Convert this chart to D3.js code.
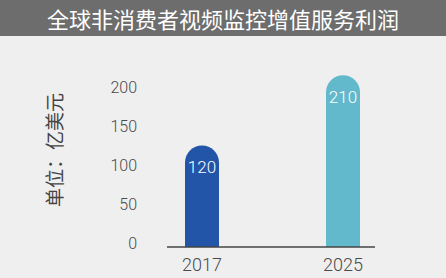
<!DOCTYPE html>
<html>
<head>
<meta charset="utf-8">
<script src="https://cdn.jsdelivr.net/npm/d3@7"></script>
<style>
  body { margin: 0; background: #efefef; }
  svg { display: block; }
</style>
</head>
<body>
<div class="chart"></div>
<script>
const width = 446
const height = 278

// data
const years = ['2017', '2025']
const profits = [120, 210]
const barColors = ['#2255a8', '#62b9cb']
const yTicks = [0, 50, 100, 150, 200]
const title = '全球非消费者视频监控增值服务利润'
const yTitle = '单位：亿美元'

const svg = d3.select('.chart').append('svg')
    .attr('width', width)
    .attr('height', height)
    .attr('viewBox', [0, 0, width, height])

svg.append('rect')
    .attr('width', width)
    .attr('height', height)
    .attr('fill', '#efefef')

// title bar
svg.append('rect')
    .attr('width', width)
    .attr('height', 36)
    .attr('fill', '#6d6d6d')

svg.append('text')
    .attr('x', width / 2)
    .attr('y', 18)
    .attr('text-anchor', 'middle')
    .attr('dominant-baseline', 'central')
    .attr('fill', '#fff')
    .style('font-family', '"Noto Sans CJK SC", sans-serif')
    .style('font-size', '22px')
    .text(title)

const x = d3.scalePoint()
    .domain(years)
    .range([202, 343])

const y = d3.scaleLinear()
    .domain([0, 200])
    .range([243, 87])

const baseY = 247
const barW = 34
const r = barW / 2

// y tick labels (no axis line)
svg.append('g')
    .selectAll('text')
    .data(yTicks)
    .join('text')
    .attr('x', 137)
    .attr('y', d => y(d))
    .attr('text-anchor', 'end')
    .attr('dominant-baseline', 'central')
    .attr('fill', '#4a4a4a')
    .style('font-family', 'Roboto, sans-serif')
    .style('font-weight', 300)
    .style('font-size', '16px')
    .text(d => d)

// y title
svg.append('text')
    .attr('transform', 'translate(53,150) rotate(-90)')
    .attr('text-anchor', 'middle')
    .attr('dominant-baseline', 'central')
    .attr('fill', '#444')
    .style('font-family', '"Noto Sans CJK SC", sans-serif')
    .style('font-size', '19px')
    .text(yTitle)

// rounded bars
const barPath = (d, i) => {
    const cx = x(years[i])
    const top = y(d) - 4
    const x0 = cx - r, x1 = cx + r
    return `M${x0},${baseY} L${x0},${top + r} A${r},${r} 0 0 1 ${x1},${top + r} L${x1},${baseY} Z`
}

svg.append('g')
    .selectAll('path')
    .data(profits)
    .join('path')
    .attr('d', barPath)
    .attr('fill', (d, i) => barColors[i])

// value labels
svg.append('g')
    .selectAll('text')
    .data(profits)
    .join('text')
    .attr('x', (d, i) => x(years[i]))
    .attr('y', d => y(d) - 4 + 22)
    .attr('text-anchor', 'middle')
    .attr('dominant-baseline', 'central')
    .attr('fill', '#fff')
    .style('font-family', 'Roboto, sans-serif')
    .style('font-weight', 300)
    .style('font-size', '17px')
    .text(d => d)

// baseline
svg.append('line')
    .attr('x1', 167)
    .attr('x2', 375)
    .attr('y1', baseY)
    .attr('y2', baseY)
    .attr('stroke', '#444')
    .attr('stroke-width', 1.5)

// x labels
svg.append('g')
    .selectAll('text')
    .data(years)
    .join('text')
    .attr('x', d => x(d))
    .attr('y', 264)
    .attr('text-anchor', 'middle')
    .attr('dominant-baseline', 'central')
    .attr('fill', '#4a4a4a')
    .style('font-family', 'Roboto, sans-serif')
    .style('font-weight', 300)
    .style('font-size', '18px')
    .text(d => d)
</script>
</body>
</html>
